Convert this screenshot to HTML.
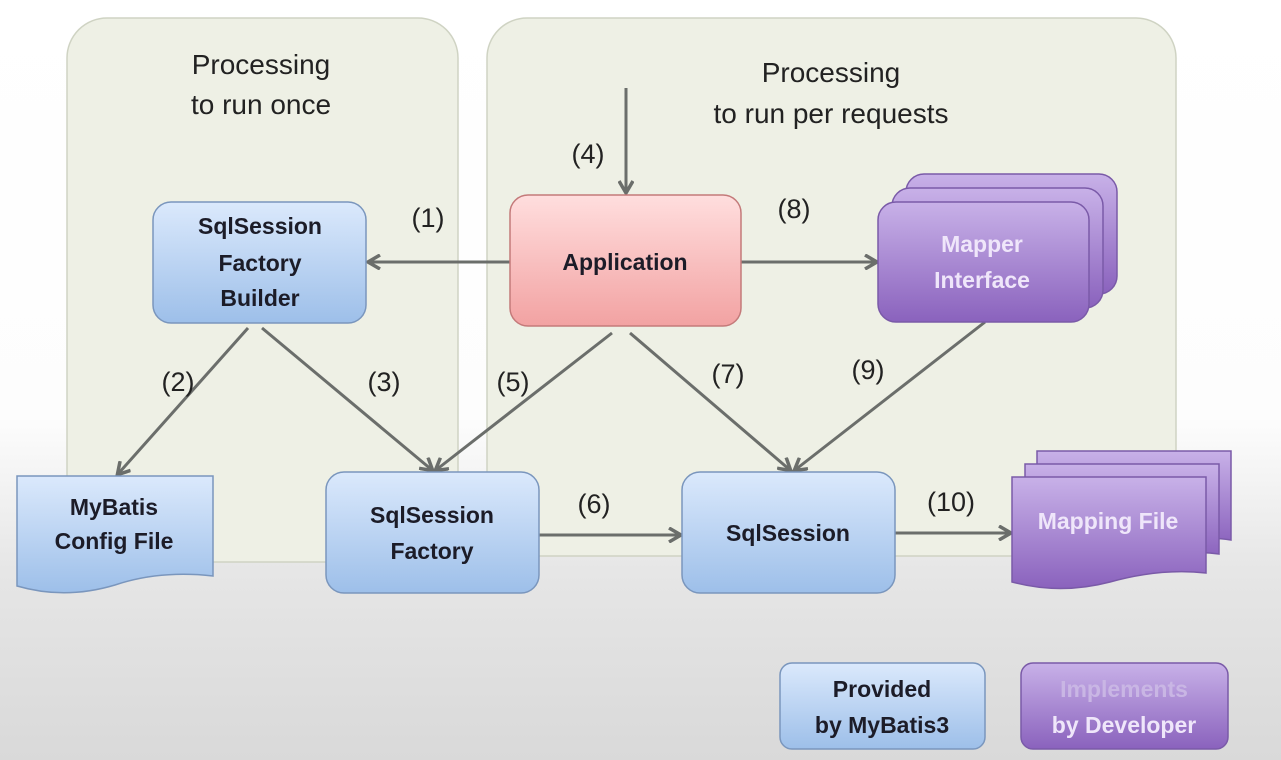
<!DOCTYPE html>
<html><head><meta charset="utf-8"><style>
html,body{margin:0;padding:0;width:1281px;height:760px;overflow:hidden;}
svg text{font-family:"Liberation Sans",sans-serif;}
</style></head><body>
<svg width="1281" height="760" viewBox="0 0 1281 760" xmlns="http://www.w3.org/2000/svg">
<defs>
<linearGradient id="bg" x1="0" y1="0" x2="0" y2="1">
<stop offset="0" stop-color="#ffffff"/><stop offset="0.55" stop-color="#fdfdfd"/><stop offset="0.75" stop-color="#e6e6e6"/><stop offset="1" stop-color="#d9d9d9"/></linearGradient>
<linearGradient id="blue" x1="0" y1="0" x2="0" y2="1"><stop offset="0" stop-color="#dbe9fc"/><stop offset="1" stop-color="#9dbfe9"/></linearGradient>
<linearGradient id="pink" x1="0" y1="0" x2="0" y2="1"><stop offset="0" stop-color="#ffdede"/><stop offset="1" stop-color="#f2a2a2"/></linearGradient>
<linearGradient id="purp" x1="0" y1="0" x2="0" y2="1"><stop offset="0" stop-color="#c8b1e8"/><stop offset="1" stop-color="#8a62bd"/></linearGradient>
<marker id="a" markerWidth="16" markerHeight="16" refX="13" refY="8" orient="auto" markerUnits="userSpaceOnUse"><path d="M2,1 L14,8 L2,15" fill="none" stroke="#6b6e6b" stroke-width="3.5"/></marker>
</defs>
<rect width="1281" height="760" fill="url(#bg)"/>
<rect x="67" y="18" width="391" height="544" rx="40" fill="#eef0e5" stroke="#cfd3c3" stroke-width="1.5"/>
<rect x="487" y="18" width="689" height="538" rx="40" fill="#eef0e5" stroke="#cfd3c3" stroke-width="1.5"/>
<g font-size="28" fill="#222" text-anchor="middle">
<text x="261" y="74">Processing</text><text x="261" y="114">to run once</text>
<text x="831" y="82">Processing</text><text x="831" y="123">to run per requests</text>
</g>
<g stroke="#6b6e6b" stroke-width="3" fill="none" marker-end="url(#a)">
<line x1="510" y1="262" x2="369" y2="262"/>
<line x1="626" y1="88" x2="626" y2="192"/>
<line x1="741" y1="262" x2="876" y2="262"/>
<line x1="248" y1="328" x2="118" y2="474"/>
<line x1="262" y1="328" x2="432" y2="470"/>
<line x1="612" y1="333" x2="436" y2="470"/>
<line x1="630" y1="333" x2="790" y2="470"/>
<line x1="985" y1="322" x2="795" y2="470"/>
<line x1="539" y1="535" x2="680" y2="535"/>
<line x1="895" y1="533" x2="1010" y2="533"/>
</g>
<g font-size="27" fill="#222" text-anchor="middle">
<text x="428" y="227">(1)</text><text x="178" y="391">(2)</text><text x="384" y="391">(3)</text>
<text x="588" y="163">(4)</text><text x="513" y="391">(5)</text><text x="594" y="513">(6)</text>
<text x="728" y="383">(7)</text><text x="794" y="218">(8)</text><text x="868" y="379">(9)</text>
<text x="951" y="511">(10)</text>
</g>
<rect x="153" y="202" width="213" height="121" rx="18" fill="url(#blue)" stroke="#7a96bd" stroke-width="1.5"/>
<rect x="326" y="472" width="213" height="121" rx="18" fill="url(#blue)" stroke="#7a96bd" stroke-width="1.5"/>
<rect x="682" y="472" width="213" height="121" rx="18" fill="url(#blue)" stroke="#7a96bd" stroke-width="1.5"/>
<path d="M17,476 H213 V576 Q160,570 115,585 Q65,600 17,586 Z" fill="url(#blue)" stroke="#7a96bd" stroke-width="1.5"/>
<rect x="510" y="195" width="231" height="131" rx="18" fill="url(#pink)" stroke="#c47a7a" stroke-width="1.5"/>
<rect x="906" y="174" width="211" height="120" rx="18" fill="url(#purp)" stroke="#7a5aa8" stroke-width="1.5"/>
<rect x="892" y="188" width="211" height="120" rx="18" fill="url(#purp)" stroke="#7a5aa8" stroke-width="1.5"/>
<rect x="878" y="202" width="211" height="120" rx="18" fill="url(#purp)" stroke="#7a5aa8" stroke-width="1.5"/>
<path d="M1037,451 H1231 V540 Q1200,535 1180,545 L1037,545 Z" fill="url(#purp)" stroke="#7a5aa8" stroke-width="1.5"/>
<path d="M1025,464 H1219 V554 Q1190,550 1170,558 L1025,558 Z" fill="url(#purp)" stroke="#7a5aa8" stroke-width="1.5"/>
<path d="M1012,477 H1206 V573 Q1160,568 1110,582 Q1060,595 1012,582 Z" fill="url(#purp)" stroke="#7a5aa8" stroke-width="1.5"/>
<rect x="780" y="663" width="205" height="86" rx="12" fill="url(#blue)" stroke="#7a96bd" stroke-width="1.5"/>
<rect x="1021" y="663" width="207" height="86" rx="12" fill="url(#purp)" stroke="#7a5aa8" stroke-width="1.5"/>
<g font-size="23" font-weight="bold" fill="#1c1c28" text-anchor="middle">
<text x="260" y="234">SqlSession</text><text x="260" y="271">Factory</text><text x="260" y="306">Builder</text>
<text x="432" y="523">SqlSession</text><text x="432" y="559">Factory</text>
<text x="788" y="541">SqlSession</text>
<text x="114" y="515">MyBatis</text><text x="114" y="549">Config File</text>
<text x="625" y="270">Application</text>
<text x="882" y="697">Provided</text><text x="882" y="733">by MyBatis3</text>
</g>
<g font-size="23" font-weight="bold" fill="#efe6fa" text-anchor="middle">
<text x="982" y="252">Mapper</text><text x="982" y="288">Interface</text>
<text x="1108" y="529">Mapping File</text>
<text x="1124" y="697" fill="#c9b6e4">Implements</text><text x="1124" y="733">by Developer</text>
</g>
</svg>
</body></html>
